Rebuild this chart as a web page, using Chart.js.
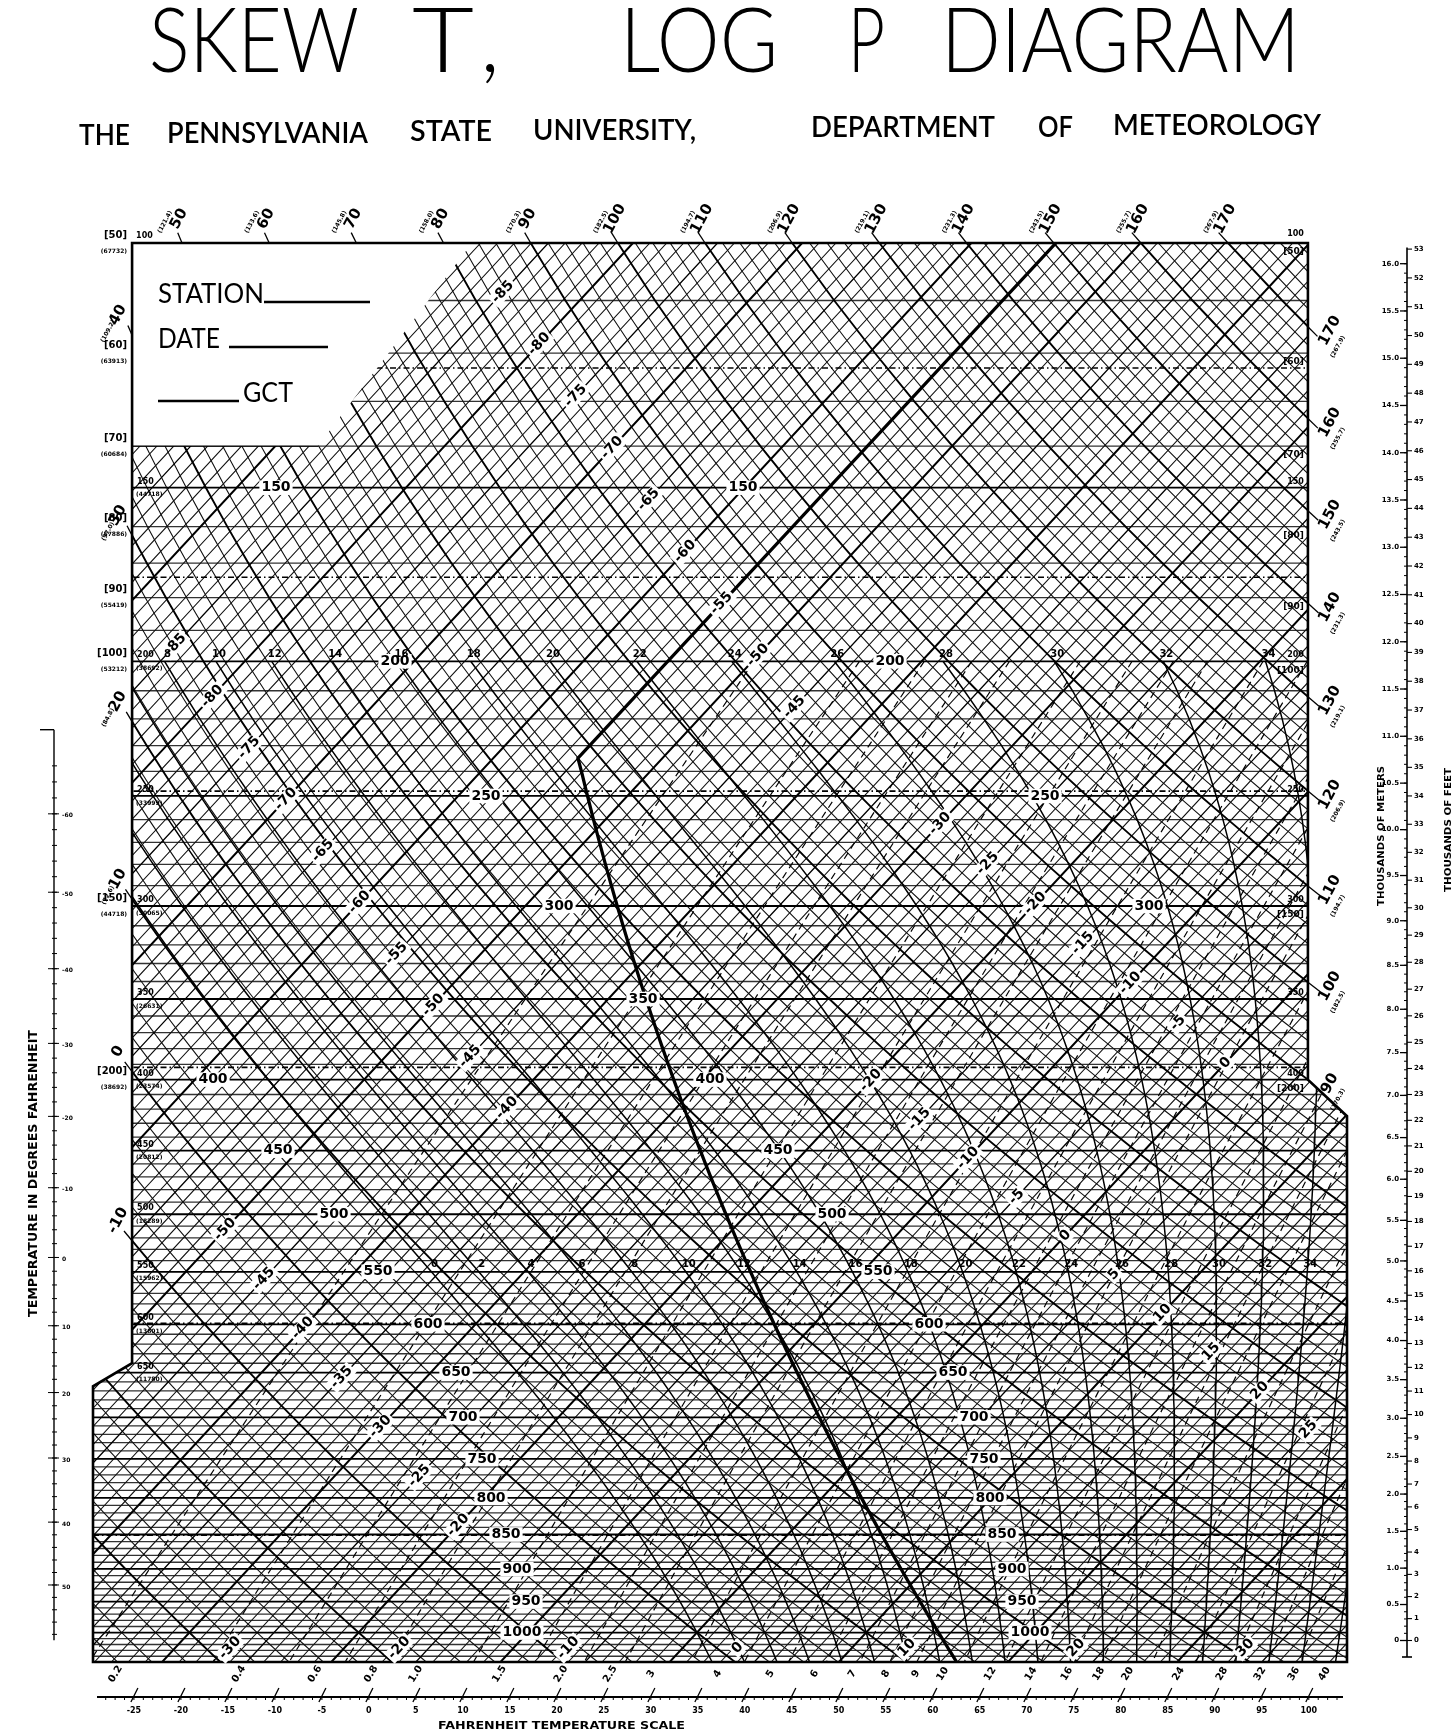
<!DOCTYPE html>
<html><head><meta charset="utf-8"><title>Skew T, Log P Diagram</title>
<script src="https://cdn.jsdelivr.net/npm/chart.js@4.4.1/dist/chart.umd.min.js"></script>
<style>
html,body{margin:0;padding:0;background:#fff}
#wrap{position:relative;width:1454px;height:1732px;overflow:hidden;background:#fff}
#c{position:absolute;left:0;top:0}
#ov{position:absolute;left:0;top:0;pointer-events:none}
</style></head><body><div id="wrap">
<canvas id="c" width="1454" height="1732"></canvas>
<svg id="ov" width="1454" height="1732" xmlns="http://www.w3.org/2000/svg">
 <g font-family="Lato, 'DejaVu Sans', sans-serif" font-weight="300" font-size="91" fill="#000">
  <text x="149" y="72" textLength="210" lengthAdjust="spacingAndGlyphs">SKEW</text>
  <text x="412" y="72" textLength="62" lengthAdjust="spacingAndGlyphs">T</text>
  <text x="480" y="72">,</text>
  <text x="620" y="72" textLength="158" lengthAdjust="spacingAndGlyphs">LOG</text>
  <text x="848" y="72" textLength="37" lengthAdjust="spacingAndGlyphs">P</text>
  <text x="941" y="72" textLength="359" lengthAdjust="spacingAndGlyphs">DIAGRAM</text>
 </g>
 <g font-family="Lato, 'DejaVu Sans', sans-serif" font-weight="600" font-size="28" fill="#000">
  <text x="79" y="145" textLength="51" lengthAdjust="spacingAndGlyphs">THE</text>
  <text x="167" y="143" textLength="201" lengthAdjust="spacingAndGlyphs">PENNSYLVANIA</text>
  <text x="410" y="141" textLength="82" lengthAdjust="spacingAndGlyphs">STATE</text>
  <text x="533" y="140" textLength="163" lengthAdjust="spacingAndGlyphs">UNIVERSITY,</text>
  <text x="811" y="137" textLength="184" lengthAdjust="spacingAndGlyphs">DEPARTMENT</text>
  <text x="1038" y="137" textLength="35" lengthAdjust="spacingAndGlyphs">OF</text>
  <text x="1113" y="135" textLength="208" lengthAdjust="spacingAndGlyphs">METEOROLOGY</text>
 </g>
 <g font-family="Lato, 'DejaVu Sans', sans-serif" font-weight="400" font-size="27" fill="#000">
  <text x="158" y="303" textLength="106" lengthAdjust="spacingAndGlyphs">STATION</text>
  <text x="158" y="348" textLength="62" lengthAdjust="spacingAndGlyphs">DATE</text>
  <text x="243" y="402" textLength="50" lengthAdjust="spacingAndGlyphs">GCT</text>
 </g>
 <g stroke="#000" stroke-width="2.6">
  <line x1="264" y1="302" x2="370" y2="302"/>
  <line x1="229" y1="347" x2="328" y2="347"/>
  <line x1="158" y1="401" x2="239" y2="401"/>
 </g>
 <g font-family="'DejaVu Sans', sans-serif" font-weight="700" fill="#000">
  <text transform="translate(37,1317) rotate(-90)" font-size="12" textLength="287" lengthAdjust="spacingAndGlyphs">TEMPERATURE IN DEGREES FAHRENHEIT</text>
  <text x="438" y="1729" font-size="10" textLength="247" lengthAdjust="spacingAndGlyphs">FAHRENHEIT TEMPERATURE SCALE</text>
  <text transform="translate(1384,906) rotate(-90)" font-size="8" textLength="140" lengthAdjust="spacingAndGlyphs">THOUSANDS OF METERS</text>
  <text transform="translate(1451,892) rotate(-90)" font-size="8" textLength="124" lengthAdjust="spacingAndGlyphs">THOUSANDS OF FEET</text>
 </g>
</svg>
</div>
<script>
// ================= DATA =================
const ISOBAR_LABELS = [150,200,250,300,350,400,450,500,550,600,650,700,750,800,850,900,950,1000];
const BOLD_ISOBARS = [100,150,200,250,300,350,400,450,500,550,600,650,700,750,800,850,900,950,1000,1050];
const EDGE_ISOBARS = [150,200,250,300,350,400,450,500,550,600,650];
const RIGHT_EDGE_ISOBARS = [150,200,250,300,350,400];
const BRACKET_LEVELS = [50,60,70,80,90,100,150,200];
const DOTTED_ISOBARS = [123,174,248,392,599,851];
const ISOTHERM_LABELS = [-85,-80,-75,-70,-65,-60,-55,-50,-45,-40,-35,-30,-25,-20,-15,-10,-5,0,5,10,15,20,25,30,35];
const DRY_ADIABAT_LABELS = [-20,-10,0,10,20,30,40,50,60,70,80,90,100,110,120,130,140,150,160,170];
const DRY_ADIABAT_ALT = [36.0,48.2,60.4,72.6,84.8,97.0,109.2,121.4,133.6,145.8,158.0,170.3,182.5,194.7,206.9,219.1,231.3,243.5,255.7,267.9];
const MOIST_ADIABATS = [0,2,4,6,8,10,12,14,16,18,20,22,24,26,28,30,32,34,36,38];
const MOIST_LABEL_LEVELS = [200,550];
const MIXING_RATIOS = [0.2,0.4,0.6,0.8,1.0,1.5,2.0,2.5,3,4,5,6,7,8,9,10,12,14,16,18,20,24,28,32,36,40];
const MIXING_LABELS = ['0.2','0.4','0.6','0.8','1.0','1.5','2.0','2.5','3','4','5','6','7','8','9','10','12','14','16','18','20','24','28','32','36','40'];
const FAHRENHEIT_LABELS = [-25,-20,-15,-10,-5,0,5,10,15,20,25,30,35,40,45,50,55,60,65,70,75,80,85,90,95,100];
const HEIGHT_KM_LABELS = [0,0.5,1,1.5,2,2.5,3,3.5,4,4.5,5,5.5,6,6.5,7,7.5,8,8.5,9,9.5,10,10.5,11,11.5,12,12.5,13,13.5,14,14.5,15,15.5,16];
const HEIGHT_KFT_LABELS = [0,1,2,3,4,5,6,7,8,9,10,11,12,13,14,15,16,17,18,19,20,21,22,23,24,25,26,27,28,29,30,31,32,33,34,35,36,37,38,39,40,41,42,43,44,45,46,47,48,49,50,51,52,53];
const STD_SURFACE = {p:1013.25, t:15};
const STD_TROPOPAUSE = {p:234.8, t:-55};
const STD_TEMP_F_LABELS = [-60,-50,-40,-30,-20,-10,0,10,20,30,40,50];

// grid spacing of the printed background (every 10 mb, every 1 C, every 2 C potential temp.)
const range=(a,b,s)=>{const r=[];for(let v=a;v<=b+1e-9;v+=s)r.push(Math.round(v*100)/100);return r;};
const PRESSURE_GRID = range(100,1050,10);
const ISOTHERM_GRID = range(-110,40,1);
const DRY_GRID = range(-40,180,2);

// ================= coordinate system =================
const SKEW = 33.1;              // isotherm skew (deg C per ln-pressure unit)
const KAPPA = 0.288;            // Poisson exponent used by the printed chart
const X_MIN = -35.70, X_MAX = 38.42, P_TOP = 100, P_BOT = 1050;
const X_L = -33.39, X_RU = 36.11; // frame edges
const FRAME_POLY = [[X_L,100],[X_RU,100],[X_RU,400],[X_MAX,425],[X_MAX,1050],[X_MIN,1050],[X_MIN,665],[X_L,640]];
const HATCH_POLY = [[X_L,140],[-22.40,140],[-13.30,100],[X_RU,100],[X_RU,400],[X_MAX,425],[X_MAX,1050],[X_MIN,1050],[X_MIN,665],[X_L,640]];

const sk=(T,p)=>T+SKEW*Math.log(1000/p);
const dryT=(th,p)=>(th+273.15)*Math.pow(p/1000,KAPPA)-273.15;
const esat=Tc=>6.112*Math.exp(17.67*Tc/(Tc+243.5));
const dewFromW=(w,p)=>{const e=w*p/(622+w);const a=Math.log(e/6.112);return 243.5*a/(17.67-a);};
const stdT=p=>288.15*Math.pow(p/STD_SURFACE.p,0.190263)-273.15;
function zFromP(p){ if(p>=STD_TROPOPAUSE.p) return 288.15/0.0065*(1-Math.pow(p/1013.25,1/5.2559)); return 10769+6385*Math.log(STD_TROPOPAUSE.p/p); }
function pFromZ(z){ if(z<=10769) return 1013.25*Math.pow(1-0.0065*z/288.15,5.2559); return STD_TROPOPAUSE.p*Math.exp(-(z-10769)/6385); }

function moistProfile(thw){
  const Rd=287.04,Cp=Rd/KAPPA,Lv=2.501e6,eps=0.622;
  const f=(p,T)=>{const es=esat(T-273.15);const rs=eps*es/(p-es);return ((Rd*T+Lv*rs)/p)/(Cp+Lv*Lv*rs*eps/(Rd*T*T));};
  const step=(p,T,h)=>{const k1=f(p,T),k2=f(p+h/2,T+h/2*k1),k3=f(p+h/2,T+h/2*k2),k4=f(p+h,T+h*k3);return T+h/6*(k1+2*k2+2*k3+k4);};
  const out={}; const T0=thw+273.15; out[1000]=T0;
  let T=T0,p=1000; while(p>200){T=step(p,T,-1);p-=1;if(p%10===0)out[p]=T;}
  T=T0;p=1000; while(p<1050){T=step(p,T,1);p+=1;if(p%10===0)out[p]=T;}
  return out;
}
const MOIST = {}; MOIST_ADIABATS.forEach(t=>MOIST[t]=moistProfile(t));

// ================= datasets =================
function joinLines(lines){const d=[];lines.forEach(l=>{l.forEach(pt=>d.push(pt));d.push({x:null,y:null});});return d;}
function ds(label,lines,style){return Object.assign({label,data:joinLines(lines),pointRadius:0,pointHoverRadius:0,fill:false,tension:0,spanGaps:false,borderColor:'#000',borderWidth:1},style);}
const isobarLine=p=>[{x:X_MIN,y:p},{x:X_MAX,y:p}];
const isothermLine=T=>[{x:sk(T,P_BOT),y:P_BOT},{x:sk(T,P_TOP),y:P_TOP}];
const dryLine=th=>PRESSURE_GRID.map(p=>({x:sk(dryT(th,p),p),y:p}));
const moistLine=t=>PRESSURE_GRID.filter(p=>p>=200).map(p=>({x:sk(MOIST[t][p]-273.15,p),y:p}));
const mixLine=w=>PRESSURE_GRID.filter(p=>p>=200).map(p=>({x:sk(dewFromW(w,p),p),y:p}));
const stdLine=[...PRESSURE_GRID.filter(p=>p>=240).slice().reverse().map(p=>({x:sk(stdT(p),p),y:p})),
  {x:sk(STD_TROPOPAUSE.t,STD_TROPOPAUSE.p),y:STD_TROPOPAUSE.p},{x:sk(STD_TROPOPAUSE.t,P_TOP),y:P_TOP}];

const datasets=[
  ds('Standard atmosphere',[stdLine],{borderWidth:3.3}),
  ds('Saturation adiabats',MOIST_ADIABATS.map(moistLine),{borderWidth:1.5}),
  ds('Mixing ratio',MIXING_RATIOS.map(mixLine),{borderWidth:1.2,borderDash:[7,5]}),
  ds('Isotherms 10',ISOTHERM_GRID.filter(t=>t%10===0).map(isothermLine),{borderWidth:2.0}),
  ds('Dry adiabats 10',DRY_GRID.filter(t=>t%10===0).map(dryLine),{borderWidth:1.9}),
  ds('Isobars 50',BOLD_ISOBARS.map(isobarLine),{borderWidth:1.8}),
  ds('Dotted isobars',DOTTED_ISOBARS.map(isobarLine),{borderWidth:1.6,borderDash:[6,3,1.5,3]}),
  ds('Isotherms 5',ISOTHERM_GRID.filter(t=>t%5===0&&t%10!==0).map(isothermLine),{borderWidth:1.3,borderColor:'#000'}),
  ds('Isotherms',ISOTHERM_GRID.filter(t=>t%5!==0).map(isothermLine),{borderWidth:1.1,borderColor:'#111'}),
  ds('Dry adiabats',DRY_GRID.filter(t=>t%10!==0).map(dryLine),{borderWidth:1.1,borderColor:'#111'}),
  ds('Isobars',PRESSURE_GRID.filter(p=>BOLD_ISOBARS.indexOf(p)<0).map(isobarLine),{borderWidth:1.3,borderColor:'#333'})
];

// ================= label layout (pixel columns of the printed isobar labels) =================
const ISOBAR_LABEL_X = {150:[276,743],200:[395,890],250:[486,1045],300:[559,1149],350:[643],400:[213,710],450:[278,778],500:[334,832],550:[378,878],600:[428,929],650:[456,953],700:[463,974],750:[482,984],800:[491,990],850:[506,1002],900:[517,1012],950:[526,1022],1000:[522,1030]};
const ISO_TRACKS = [
  {a:[172,640],b:[530,1140],step:5,dx:0},{a:[500,288],b:[800,715],step:5,dx:0},{a:[190,1185],b:[470,1540],step:5,dx:0},
  {a:[930,815],b:[1240,1075],step:5,dx:0},{a:[834,1051],b:[1329,1446],step:5,dx:0},{a:[110,1648],b:[1290,1648],step:10,dx:55}];

const FB='DejaVu Sans';
function txt(c,s,x,y,font,ang,bg,align){
  c.save();c.translate(x,y);if(ang)c.rotate(ang);c.font=font;c.textAlign=align||'center';c.textBaseline='middle';
  if(bg){const w=c.measureText(s).width;const h=+font.match(/(\d+(?:\.\d+)?)px/)[1];
    const x0=c.textAlign==='center'?-w/2:(c.textAlign==='right'?-w:0);c.fillStyle='#fff';c.fillRect(x0-2,-h*0.52,w+4,h*1.04);}
  c.fillStyle='#000';c.fillText(s,0,0);c.restore();
}
const rad=d=>d*Math.PI/180;
function solveP(fn,target,lo,hi){let fa=fn(lo)-target,fb=fn(hi)-target;if(fa*fb>0)return null;
  for(let i=0;i<60;i++){const m=(lo+hi)/2,fm=fn(m)-target;if(fa*fm<=0){hi=m;fb=fm;}else{lo=m;fa=fm;}}return (lo+hi)/2;}

const skewPlugin={
  id:'skew',
  beforeDatasetsDraw(chart){const c=chart.ctx;c.save();poly(chart,HATCH_POLY);c.clip();},
  afterDatasetsDraw(chart){
    const c=chart.ctx;c.restore();
    const X=v=>chart.scales.x.getPixelForValue(v), Y=v=>chart.scales.y.getPixelForValue(v);
    const Xv=px=>chart.scales.x.getValueForPixel(px), Yv=py=>chart.scales.y.getValueForPixel(py);
    // frame
    c.save();c.strokeStyle='#000';c.lineWidth=2.6;poly(chart,FRAME_POLY);c.stroke();
    c.lineWidth=1.2;c.beginPath();c.moveTo(X(X_L),Y(140));c.lineTo(X(-22.40),Y(140));c.stroke();c.restore();
    // isobar labels
    ISOBAR_LABELS.forEach(p=>{(ISOBAR_LABEL_X[p]||[]).forEach(x=>txt(c,String(p),x,Y(p),'bold 14px '+FB,0,true));});
    // isotherm labels along tracks
    const isoAng=Math.atan2(Y(P_TOP)-Y(P_BOT),X(sk(0,P_TOP))-X(sk(0,P_BOT)));
    ISO_TRACKS.forEach(tr=>{
      const Ta=Xv(tr.a[0])-SKEW*Math.log(1000/Yv(tr.a[1])), Tb=Xv(tr.b[0])-SKEW*Math.log(1000/Yv(tr.b[1]));
      ISOTHERM_LABELS.forEach(T=>{ if(T%tr.step!==0)return; const t=(T-Ta)/(Tb-Ta); if(t<0||t>1)return;
        const x=tr.a[0]+t*(tr.b[0]-tr.a[0])+tr.dx, y=tr.a[1]+t*(tr.b[1]-tr.a[1]);
        txt(c,String(T),x,y,'bold 14px '+FB,isoAng,true);});
    });
    // dry adiabat edge labels and ticks
    const rightP=410;
    c.save();c.strokeStyle='#000';c.lineWidth=1.3;
    DRY_GRID.forEach(th=>{ if(th%5!==0)return;
      const fx=p=>sk(dryT(th,p),p);
      const Xt=fx(P_TOP);
      if(Xt>=X_L&&Xt<=X_RU){c.beginPath();c.moveTo(X(Xt),Y(P_TOP));c.lineTo(X(fx(98.3)),Y(98.3));c.stroke();}
      const pl=solveP(fx,X_L,100,640); if(pl&&Xt<X_L){c.beginPath();c.moveTo(X(X_L),Y(pl));c.lineTo(X(fx(pl*0.984)),Y(pl*0.984));c.stroke();}
      const pr=solveP(fx,X_RU,100.5,400); if(pr){c.beginPath();c.moveTo(X(X_RU),Y(pr));c.lineTo(X(fx(pr*1.016)),Y(pr*1.016));c.stroke();}
    });
    c.restore();
    DRY_ADIABAT_LABELS.forEach((th,i)=>{
      const alt=DRY_ADIABAT_ALT[i], fx=p=>sk(dryT(th,p),p), Xt=fx(P_TOP), a=rad(-62);
      if(Xt>=X_L&&Xt<=X_RU){const x=X(Xt),y=Y(P_TOP);txt(c,String(th),x-3,y-24,'bold 15px '+FB,a);
        if(th>=10)txt(c,'('+alt.toFixed(1)+')',x-17,y-21,'bold 6px '+FB,a);}
      const pl=solveP(fx,X_L,100,640);
      if(pl&&Xt<X_L){const x=X(X_L),y=Y(pl);txt(c,String(th),x-14,y-20,'bold 15px '+FB,a);
        if(th>=10)txt(c,'('+alt.toFixed(1)+')',x-24,y-4,'bold 6px '+FB,a);}
      const pr=solveP(fx,X_RU,100.5,rightP);
      if(pr){const x=X(X_RU),y=Y(pr);txt(c,String(th),x+22,y+4,'bold 15px '+FB,a);
        if(th>=10)txt(c,'('+alt.toFixed(1)+')',x+30,y+20,'bold 6px '+FB,a);}
    });
    // saturation adiabat labels
    MOIST_ADIABATS.forEach(t=>{MOIST_LABEL_LEVELS.forEach(pl=>{const Xm=sk(MOIST[t][pl]-273.15,pl);
      const right=pl<400?X_RU:X_MAX; if(Xm<X_L+0.6||Xm>right-0.8)return;
      txt(c,String(t),X(Xm)+3,Y(pl)-7,'bold 10px '+FB,0,false);});});
    // mixing ratio labels under the frame
    MIXING_RATIOS.forEach((w,i)=>{let x=X(sk(dewFromW(w,P_BOT),P_BOT))+26;if(x<110)x=110;
      txt(c,MIXING_LABELS[i],x,Y(P_BOT)+12,'bold 10px '+FB,rad(-58));});
    // small pressure/height labels at the edges
    EDGE_ISOBARS.forEach(p=>{txt(c,String(p),X(X_L)+5,Y(p)-6,'bold 8px '+FB,0,false,'left');
      txt(c,'('+Math.round(zFromP(p)*3.28084)+')',X(X_L)+4,Y(p)+7,'bold 6px '+FB,0,false,'left');});
    RIGHT_EDGE_ISOBARS.forEach(p=>txt(c,String(p),X(X_RU)-4,Y(p)-6,'bold 8px '+FB,0,false,'right'));
    BRACKET_LEVELS.forEach(b=>{const y=Y(2*b);
      txt(c,'['+b+']',X(X_L)-5,y-8,'bold 10px '+FB,0,false,'right');
      txt(c,'('+Math.round(zFromP(b)*3.28084)+')',X(X_L)-5,y+8,'bold 6px '+FB,0,false,'right');
      txt(c,'['+b+']',X(X_RU)-4,y+9,'bold 9px '+FB,0,false,'right');});
    txt(c,'100',X(X_L)+4,Y(P_TOP)-7,'bold 8px '+FB,0,false,'left');
    txt(c,'100',X(X_RU)-4,Y(P_TOP)-9,'bold 8px '+FB,0,false,'right');
    // Fahrenheit scale
    c.save();c.strokeStyle='#000';c.fillStyle='#000';
    const yF=1697;c.lineWidth=2;c.beginPath();c.moveTo(97,yF);c.lineTo(1343,yF);c.stroke();c.lineWidth=1;
    for(let F=-28;F<=106;F++){const x=X(sk((F-32)/1.8,P_BOT));if(x<97||x>1343)continue;
      c.beginPath();c.moveTo(x,yF);c.lineTo(x,yF+3);c.stroke();}
    FAHRENHEIT_LABELS.forEach(F=>{const x=X(sk((F-32)/1.8,P_BOT));c.lineWidth=1.3;c.beginPath();c.moveTo(x-3,yF+5);c.lineTo(x+4,yF-9);c.stroke();
      txt(c,String(F),x,1711,'bold 8px '+FB,0,false);});
    // height scale (standard atmosphere)
    const xa=1407;c.lineWidth=1.6;c.beginPath();c.moveTo(xa,Y(pFromZ(16150))-2);c.lineTo(xa,1657);c.stroke();
    c.beginPath();c.moveTo(xa-5,1657);c.lineTo(xa+5,1657);c.stroke();
    c.lineWidth=1;
    for(let z=0;z<=16.05;z+=0.1){const y=Y(pFromZ(z*1000));c.beginPath();c.moveTo(xa-3,y);c.lineTo(xa,y);c.stroke();}
    HEIGHT_KM_LABELS.forEach(z=>{const y=Y(pFromZ(z*1000));c.lineWidth=1.3;c.beginPath();c.moveTo(xa-7,y);c.lineTo(xa,y);c.stroke();
      txt(c,z===0?'0':z.toFixed(1),xa-8,y,'bold 7px '+FB,0,false,'right');});
    HEIGHT_KFT_LABELS.forEach(k=>{const y=Y(pFromZ(k*304.8));c.lineWidth=1.1;c.beginPath();c.moveTo(xa,y);c.lineTo(xa+5,y);c.stroke();
      txt(c,String(k),xa+7,y,'bold 7px '+FB,0,false,'left');});
    // standard-atmosphere temperature ruler (deg F) on the left
    const xr=54, pF=F=>STD_SURFACE.p*Math.pow((((F-32)/1.8)+273.15)/288.15,5.2559);
    c.lineWidth=1.4;c.beginPath();c.moveTo(xr,Y(224));c.lineTo(xr,Y(1013));c.stroke();
    c.beginPath();c.moveTo(xr-14,Y(224));c.lineTo(xr,Y(224));c.stroke();
    c.lineWidth=1;for(let F=-66;F<=58;F+=2){const y=Y(pF(F));c.beginPath();c.moveTo(xr-2,y);c.lineTo(xr+3,y);c.stroke();}
    STD_TEMP_F_LABELS.forEach(F=>{const y=Y(pF(F));c.beginPath();c.moveTo(xr-6,y);c.lineTo(xr+5,y);c.stroke();
      txt(c,String(F),xr+8,y+2,'bold 6px '+FB,0,false,'left');});
    c.restore();
  }
};
function poly(chart,pts){const c=chart.ctx,sx=chart.scales.x,sy=chart.scales.y;c.beginPath();
  pts.forEach(([Xd,p],i)=>{const x=sx.getPixelForValue(Xd),y=sy.getPixelForValue(p);if(i)c.lineTo(x,y);else c.moveTo(x,y);});c.closePath();}

new Chart(document.getElementById('c').getContext('2d'),{
  type:'line',
  data:{datasets},
  options:{
    responsive:false,animation:false,devicePixelRatio:1,events:[],
    layout:{autoPadding:false,padding:{left:93,right:107,top:243,bottom:70}},
    scales:{
      x:{type:'linear',min:X_MIN,max:X_MAX,bounds:'data',display:false},
      y:{type:'logarithmic',min:P_TOP,max:P_BOT,reverse:true,bounds:'data',display:false}
    },
    plugins:{legend:{display:false},tooltip:{enabled:false},title:{display:false}},
    elements:{point:{radius:0},line:{tension:0,capBezierPoints:false}}
  },
  plugins:[skewPlugin]
});
</script>
</body></html>
